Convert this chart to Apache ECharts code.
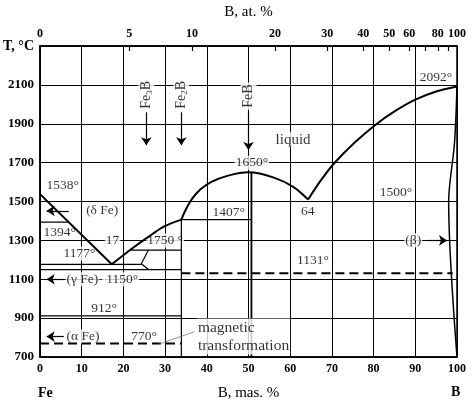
<!DOCTYPE html>
<html><head><meta charset="utf-8">
<script src="https://cdn.jsdelivr.net/npm/echarts@6/dist/echarts.min.js"></script>
<style>html,body{margin:0;padding:0;background:#fff}#c{width:473px;height:406px}</style>
</head><body><div id="c"></div>
<script>
// ---- data (x = bottom axis value, T in °C) ----
const liqFe = [[0,1538],[17.2,1177]];
const liqFe2B = [[17.2,1177],[22,1257],[25.9,1317],[29.8,1372],[33.9,1407]];
const liqFeB = [[33.9,1407],[35,1460],[36.5,1515],[38.5,1563],[41,1600],[45.1,1633],[50,1650],[56.1,1623],[60.9,1573],[64.3,1510]];
const liqB = [[64.3,1510],[67.3,1607],[70.4,1693],[75.4,1802],[80.4,1894],[85.2,1966],[90,2024],[95,2066],[100,2092]];
const solB = [[100,2092],[99.4,1800],[98.0,1500],[100,700]];
const isotherms = [
  [[0,1394],[6.86,1394]],
  [[0,1177],[24.3,1177]],
  [[0,1150],[33.9,1150]],
  [[0,912],[33.9,912]],
  [[21.8,1250],[33.9,1250]],
  [[33.9,1407],[50.7,1407]],
  [[33.9,1407],[33.9,700]],
  [[26,1250],[24.3,1180],[26,1150]]
];
const feBLine = [[50.7,1650],[50.7,700]];
const dashedLines = [
  [[0,770],[33.9,770]],
  [[33.9,1131],[99,1131]]
];
const pointer = [[28.4,765],[37.0,830]];
const notes = [
  ['1538°',1.2,1585,'l'],
  ['(δ Fe)',10.7,1452,'l'],
  ['1394°',0.5,1339,'l'],
  ['17',17.4,1300,'c'],
  ['1750 °',30.0,1300,'c'],
  ['1177°',5.3,1232,'l'],
  ['(γ Fe)- 1150°',6.0,1100,'l'],
  ['912°',11.9,951,'l'],
  ['(α Fe)',6.0,805,'l'],
  ['770°',21.5,805,'l'],
  ['1407°',41.0,1445,'l'],
  ['1650°',50.8,1700,'c'],
  ['liquid',60.7,1818,'c'],
  ['2092°',90.7,2139,'l'],
  ['1500°',81.1,1548,'l'],
  ['64',64.2,1447,'c'],
  ['(β)',89.5,1300,'c'],
  ['1131°',61.3,1196,'l']
];
const magNote = ['magnetic\ntransformation',37.5,805];
const phases = [['Fe','3',25.5,2049],['Fe','2',33.9,2049],['FeB','',50,2042]];
const arrows = [
  [25.5,1959,25.5,1790],
  [33.9,1959,33.9,1790],
  [50,1959,50,1765],
  [6.9,1452,1.6,1452],
  [5.7,1100,1.6,1100],
  [5.7,805,1.6,805],
  [92.8,1300,97.6,1300]
];
const massTicks = [5,10,20,30,40,50,60,70,80,90];
const massLabels = [0,5,10,20,30,40,50,60,80,100];
const yTicks = {min:700, max:2300, step:200};

// mass % -> at. % B
const toAt = m => 100*(m/10.81)/((m/10.81)+((100-m)/55.845));
const labelMap = {};
massLabels.forEach(m => { labelMap[toAt(m).toFixed(3)] = String(m); });

const FONT = "'Liberation Serif','DejaVu Serif',serif";
const lineS = (data, width, extra) => Object.assign({
  type:'line', data, symbol:'none', showSymbol:false, silent:true, animation:false, z:3,
  lineStyle:{color:'#000', width}
}, extra||{});

const series = [];
series.push(lineS(liqFe, 2, {
  markLine:{silent:true, animation:false, symbol:['none','arrow'], symbolSize:8,
    label:{show:false}, lineStyle:{color:'#000', width:1.2, type:'solid'},
    data: arrows.map(a => [{coord:[a[0],a[1]]},{coord:[a[2],a[3]]}])}
}));
const smoothOpt = {smooth:0.3};
series.push(lineS(liqFe2B, 2, smoothOpt));
series.push(lineS(liqFeB, 2, smoothOpt));
series.push(lineS(liqB, 2, smoothOpt));
series.push(lineS(solB, 1.5, {smooth:0.3}));
isotherms.forEach(d => series.push(lineS(d, 1.2)));
series.push(lineS(feBLine, 1.8));
dashedLines.forEach(d => series.push(lineS(d, 2, {lineStyle:{color:'#000', width:2, type:[9,5]}})));
series.push(lineS(pointer, 0.8, {lineStyle:{color:'#777', width:0.8}}));

const baseLabel = {fontFamily:FONT, fontSize:13.5, color:'#000', backgroundColor:'#fff', padding:[0,1]};
series.push({
  type:'scatter', symbolSize:1, itemStyle:{color:'transparent'}, silent:true, animation:false, z:2,
  data: notes.map(n => ({value:[n[1],n[2]], label:Object.assign({}, baseLabel, {
    show:true, formatter:n[0], position: n[3]==='l' ? 'right' : 'inside', distance:0,
    fontSize: n[0]==='liquid' ? 15 : 13.5
  })}))
});
series.push({
  type:'scatter', symbolSize:1, itemStyle:{color:'transparent'}, silent:true, animation:false, z:2,
  data: phases.map(p => ({value:[p[2],p[3]], label:Object.assign({}, baseLabel, {
    show:true, position:'inside', rotate:90, padding:[0,2],
    formatter: p[1] ? '{a|'+p[0]+'}{s|'+p[1]+'}{a|B}' : '{a|'+p[0]+'}',
    rich:{a:{fontFamily:FONT, fontSize:14, color:'#000', lineHeight:16},
          s:{fontFamily:FONT, fontSize:9, color:'#000', verticalAlign:'bottom', lineHeight:16}}
  })}))
});
series.push({
  type:'scatter', symbolSize:1, itemStyle:{color:'transparent'}, silent:true, animation:false, z:5,
  data:[{value:[magNote[1],magNote[2]], label:Object.assign({}, baseLabel, {
    show:true, formatter:magNote[0], position:'right', distance:0, fontSize:15.5, lineHeight:18, align:'left'
  })}]
});

const chart = echarts.init(document.getElementById('c'), null, {renderer:'canvas'});
chart.setOption({
  animation:false,
  backgroundColor:'#fff',
  grid:{left:38, right:16, top:42, bottom:45, show:true, borderColor:'#000', borderWidth:1.5, backgroundColor:'transparent'},
  xAxis:[{
    type:'value', min:0, max:100, interval:10, position:'bottom',
    name:'B, mas. %', nameLocation:'middle', nameGap:29,
    nameTextStyle:{fontFamily:FONT, fontSize:15, color:'#000'},
    axisLine:{show:true, lineStyle:{color:'#000', width:1.5}},
    axisTick:{show:false},
    axisLabel:{fontFamily:FONT, fontSize:12, fontWeight:'bold', color:'#000', margin:6},
    splitLine:{show:true, lineStyle:{color:'#000', width:1}}
  },{
    type:'value', min:0, max:100, position:'top',
    name:'B, at. %', nameLocation:'middle', nameGap:26,
    nameTextStyle:{fontFamily:FONT, fontSize:15, color:'#000'},
    axisLine:{show:true, lineStyle:{color:'#000', width:1.5}},
    axisTick:{show:true, inside:true, length:5, customValues: massTicks.map(toAt), lineStyle:{color:'#000', width:1.2}},
    axisLabel:{show:true, customValues: massLabels.map(toAt), fontFamily:FONT, fontSize:12, fontWeight:'bold', color:'#000', margin:6,
      formatter: v => labelMap[Number(v).toFixed(3)] || ''},
    splitLine:{show:false}
  }],
  yAxis:{
    type:'value', min:yTicks.min, max:yTicks.max, interval:yTicks.step,
    axisLine:{show:true, lineStyle:{color:'#000', width:1.5}},
    axisTick:{show:false},
    axisLabel:{fontFamily:FONT, fontSize:13, fontWeight:'bold', color:'#000', margin:6, showMaxLabel:true, showMinLabel:true,
      formatter: v => v===yTicks.max ? '{t|T, °C}' : String(v),
      rich:{t:{fontFamily:FONT, fontSize:14, fontWeight:'bold', color:'#000'}}},
    splitLine:{show:true, lineStyle:{color:'#000', width:1}}
  },
  graphic:[
    {type:'text', left:38, top:386, style:{text:'Fe', font:"bold 14px 'Liberation Serif'", fill:'#000'}},
    {type:'text', left:451, top:385, style:{text:'B', font:"bold 14px 'Liberation Serif'", fill:'#000'}}
  ],
  series
});
</script></body></html>
